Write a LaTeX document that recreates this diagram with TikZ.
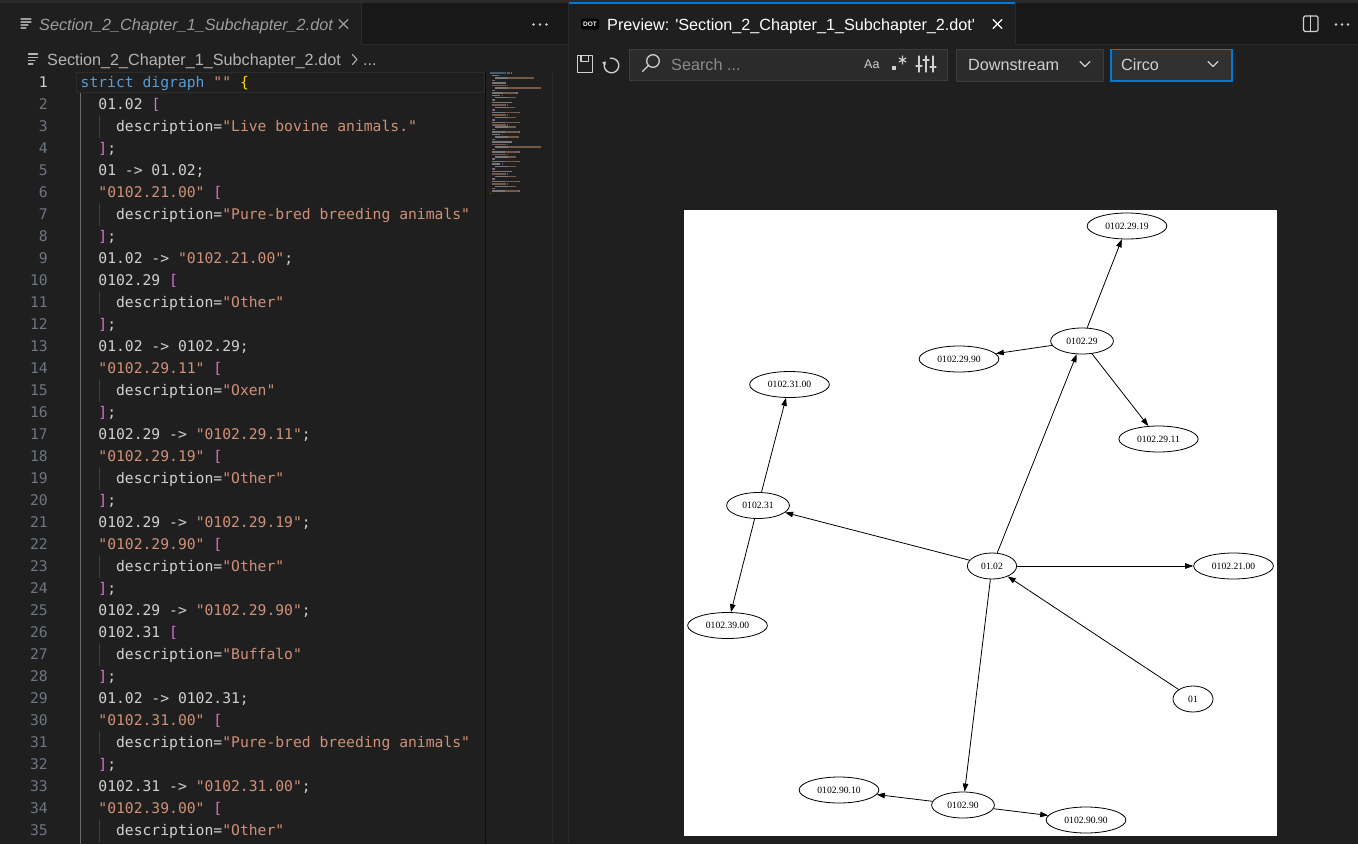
\documentclass[tikz,border=0pt]{standalone}
\usepackage{fontspec}
\usetikzlibrary{arrows.meta,shapes.geometric}
\newfontfamily\uifont{Liberation Sans}
\newfontfamily\codefont{DejaVu Sans Mono}
\newfontfamily\dotfont{Liberation Serif}
\definecolor{editorbg}{HTML}{1F1F1F}
\definecolor{tabbarbg}{HTML}{181818}
\definecolor{paneline}{HTML}{2B2B2B}
\definecolor{focusblue}{HTML}{0078D4}
\definecolor{codefg}{HTML}{D0D0D0}
\definecolor{dotkw}{HTML}{569CD6}
\definecolor{dotstr}{HTML}{CE9178}
\definecolor{dotbrk}{HTML}{DA70D6}
\definecolor{dotbrc}{HTML}{FFD700}
\definecolor{lnumfg}{HTML}{6E7681}
\definecolor{tabfg}{HTML}{9D9D9D}
\definecolor{crumbfg}{HTML}{B4B4B4}
\definecolor{hintfg}{HTML}{8B8B8B}
\definecolor{inputbg}{HTML}{2B2B2B}
\definecolor{inputline}{HTML}{3C3C3C}
\definecolor{dropbg}{HTML}{313131}
\definecolor{guidefg}{HTML}{404040}
\definecolor{guideact}{HTML}{6A6A6A}
\definecolor{currline}{HTML}{2C2C2C}
\newcommand\dkw[1]{\textcolor{dotkw}{#1}}
\newcommand\dstr[1]{\textcolor{dotstr}{#1}}
\newcommand\dbrk[1]{\textcolor{dotbrk}{#1}}
\newcommand\dbrc[1]{\textcolor{dotbrc}{#1}}
% editor line: number, indent, text
\newcommand\codeline[3]{\node[code] (c#1) at ({80.5+#2*8.85},{87+22*(#1-1)}) {#3};}
% minimap: line, column, length, colour
\newcommand\mmbar[4]{\fill[#4,opacity=.5] ({490+(#2)*1.15},{69.9+(#1)*2.46}) rectangle ++({(#3)*1.15},1.5);}
\newcommand\mmkey[1]{\mmbar{#1}{2}{12}{dotstr}\mmbar{#1}{15}{1}{dotbrk}}
\newcommand\mmnode[2]{\mmbar{#1}{2}{#2}{codefg}\mmbar{#1}{#2+3}{1}{dotbrk}}
\newcommand\mmdesc[2]{\mmbar{#1}{4}{12}{codefg}\mmbar{#1}{16}{#2}{dotstr}}
\newcommand\mmend[1]{\mmbar{#1}{2}{1}{dotbrk}\mmbar{#1}{3}{1}{codefg}}
\newcommand\mmedge[3]{\mmbar{#1}{2}{#2+4}{codefg}\mmbar{#1}{#2+6}{#3}{dotstr}\mmbar{#1}{#2+6+#3}{1}{codefg}}
\begin{document}
\begin{tikzpicture}[x=1pt, y=-1pt,
  code/.style={font=\codefont\fontsize{14.7}{17}\selectfont, text=codefg, anchor=base west, inner sep=0pt},
  lnum/.style={code, text=lnumfg, anchor=base east},
  ui/.style={font=\uifont\fontsize{16.2}{19}\selectfont, text=codefg, anchor=base west, inner sep=0pt},
  icon/.style={draw=codefg, line width=1.3pt, line cap=round, line join=round},
  dotnode/.style={ellipse, draw, fill=white, line width=.8pt, font=\dotfont\fontsize{9.6}{11}\selectfont,
    inner xsep=6.6pt, inner ysep=0pt, minimum height=26pt, minimum width=40pt},
  rel/.style={-{Triangle[length=8pt,width=5.5pt]}, line width=.8pt}]
\useasboundingbox (0,0) rectangle (1358,844);
\fill[editorbg] (0,0) rectangle (1358,844);
% tab bars
\fill[tabbarbg] (0,0) rectangle (1358,44.5);
\fill[paneline] (0,0) rectangle (1358,2.5);
\fill[editorbg] (0,2.5) rectangle (361,45);
\fill[editorbg] (568,2.5) rectangle (1015,45);
\fill[focusblue] (568,2) rectangle (1015,3.8);
\draw[paneline] (361,44.5) -- (568,44.5) (1015,44.5) -- (1358,44.5);
\draw[paneline] (361,2.5) -- (361,44.5) (1015,2.5) -- (1015,44.5);
\draw[paneline] (568,0) -- (568,844);
% left tab
\draw[icon, draw=tabfg, line width=1.2pt] (21,19) -- (31,19) (21,22) -- (31,22) (21,25) -- (28,25) (21,28) -- (26,28);
\node[ui, text=tabfg, font=\uifont\itshape\fontsize{16.2}{19}\selectfont] (tabL) at (39,30) {Section\_2\_Chapter\_1\_Subchapter\_2.dot};
\draw[icon, draw=tabfg, line width=1.1pt] (339,19.5) -- (348,28.5) (339,28.5) -- (348,19.5);
\foreach \x in {533.5,540,546.5} \fill[codefg] (\x,24.5) circle[radius=1.3];
% breadcrumb
\draw[icon, draw=crumbfg, line width=1.2pt] (28.5,54) -- (37.5,54) (28.5,57.3) -- (37.5,57.3) (28.5,60.6) -- (35,60.6) (28.5,63.9) -- (33,63.9);
\node[ui, text=crumbfg] (crumb) at (47,65) {Section\_2\_Chapter\_1\_Subchapter\_2.dot};
\draw[icon, draw=crumbfg, line width=1.1pt] (352.5,54.5) -- (357,59.5) -- (352.5,64.5);
\node[ui, text=crumbfg] (crumbmore) at (363,65) {...};
% editor
\draw[currline, line width=1pt] (76,72) rectangle (484.5,92.5);
\draw[guideact] (80.5,93) -- (80.5,844);
\foreach \n in {3,7,...,35} \draw[guidefg] (98.9,{71.5+22*(\n-1)}) -- ++(0,22);
\node[lnum, text=codefg] (ln1) at (48,87) {1};
\foreach \n in {2,...,35} \node[lnum] (ln\n) at (48,{87+22*(\n-1)}) {\n};
\codeline{1}{0}{\dkw{strict digraph} \dstr{""} \dbrc{\{}}
\codeline{2}{2}{01.02 \dbrk{[}}
\codeline{3}{4}{description=\dstr{"Live bovine animals."}}
\codeline{4}{2}{\dbrk{]};}
\codeline{5}{2}{01 -> 01.02;}
\codeline{6}{2}{\dstr{"0102.21.00"} \dbrk{[}}
\codeline{7}{4}{description=\dstr{"Pure-bred breeding animals"}}
\codeline{8}{2}{\dbrk{]};}
\codeline{9}{2}{01.02 -> \dstr{"0102.21.00"};}
\codeline{10}{2}{0102.29 \dbrk{[}}
\codeline{11}{4}{description=\dstr{"Other"}}
\codeline{12}{2}{\dbrk{]};}
\codeline{13}{2}{01.02 -> 0102.29;}
\codeline{14}{2}{\dstr{"0102.29.11"} \dbrk{[}}
\codeline{15}{4}{description=\dstr{"Oxen"}}
\codeline{16}{2}{\dbrk{]};}
\codeline{17}{2}{0102.29 -> \dstr{"0102.29.11"};}
\codeline{18}{2}{\dstr{"0102.29.19"} \dbrk{[}}
\codeline{19}{4}{description=\dstr{"Other"}}
\codeline{20}{2}{\dbrk{]};}
\codeline{21}{2}{0102.29 -> \dstr{"0102.29.19"};}
\codeline{22}{2}{\dstr{"0102.29.90"} \dbrk{[}}
\codeline{23}{4}{description=\dstr{"Other"}}
\codeline{24}{2}{\dbrk{]};}
\codeline{25}{2}{0102.29 -> \dstr{"0102.29.90"};}
\codeline{26}{2}{0102.31 \dbrk{[}}
\codeline{27}{4}{description=\dstr{"Buffalo"}}
\codeline{28}{2}{\dbrk{]};}
\codeline{29}{2}{01.02 -> 0102.31;}
\codeline{30}{2}{\dstr{"0102.31.00"} \dbrk{[}}
\codeline{31}{4}{description=\dstr{"Pure-bred breeding animals"}}
\codeline{32}{2}{\dbrk{]};}
\codeline{33}{2}{0102.31 -> \dstr{"0102.31.00"};}
\codeline{34}{2}{\dstr{"0102.39.00"} \dbrk{[}}
\codeline{35}{4}{description=\dstr{"Other"}}
% minimap
\draw[black!60!editorbg] (485,72) -- (485,844);
\draw[paneline] (552.5,72) -- (552.5,844);
\mmbar{1}{0}{14}{dotkw}\mmbar{1}{15}{2}{dotstr}\mmbar{1}{18}{1}{dotbrc}
\foreach \n in {6,14,18,22,30,34,42,46} {\mmkey{\n}}
\foreach \n in {4,8,...,48} {\mmend{\n}}
\foreach \n in {17,21,25,33,37,45,49} {\mmedge{\n}{7}{12}}
\mmedge{9}{5}{12}
\foreach \n/\w in {3/22,7/28,11/7,15/6,19/7,23/7,27/9,31/28,35/7,39/7,43/7,47/7} {\mmdesc{\n}{\w}}
\foreach \n/\w in {2/5,10/7,26/7,38/7} {\mmnode{\n}{\w}}
\foreach \n/\w in {5/12,13/17,29/17,41/17} {\mmbar{\n}{2}{\w}{codefg}}
\mmbar{50}{0}{1}{dotbrc}
% preview tab
\node[fill=black, rounded corners=2.5pt, text=white, font=\uifont\bfseries\fontsize{6.5}{7}\selectfont,
  inner sep=0pt, minimum width=18pt, minimum height=11pt] (dotbadge) at (590,24) {DOT};
\node[ui, text=white] (tabR) at (607,30) {Preview: 'Section\_2\_Chapter\_1\_Subchapter\_2.dot'};
\draw[icon, draw=white, line width=1.1pt] (993,19.5) -- (1002,28.5) (993,28.5) -- (1002,19.5);
\draw[icon, rounded corners=1.5pt] (1303.5,16) rectangle (1318,31.5);
\draw[icon] (1310.75,16) -- (1310.75,31.5);
\foreach \x in {1336,1342,1348} \fill[codefg] (\x,24.5) circle[radius=1.3];
% toolbar
\draw[icon] (577.5,55.5) rectangle (592.5,72.5);
\draw[icon] (581,55.5) rectangle (588.5,61.5);
\draw[icon, -{Triangle[length=3pt,width=4pt]}] (611.5,65.5) ++(-100:7.3) arc[start angle=-100, end angle=215, radius=7.3];
\draw[inputline, fill=inputbg] (629.5,49.5) rectangle (947.5,80.5);
\draw[icon] (653,61) circle[radius=6.3] (648.5,65.5) -- (642.5,71.5);
\node[ui, text=hintfg] (search) at (671,70.8) {Search ...};
\node[ui, font=\uifont\fontsize{12.5}{14}\selectfont] (caseopt) at (864,68.5) {Aa};
\fill[codefg] (892,66) rectangle (896,70);
\draw[icon, line width=1.1pt] (902.5,56) -- (902.5,64) (899,58) -- (906,62) (899,62) -- (906,58);
\draw[icon, line width=1.1pt] (919,56) -- (919,72) (926,56) -- (926,72) (933,56) -- (933,72)
  (916,66) -- (922,66) (923,60) -- (929,60) (930,67) -- (936,67);
\draw[inputline, fill=inputbg] (956.5,49.5) rectangle (1103.5,81);
\node[ui] (downstream) at (968,70.8) {Downstream};
\draw[icon, line width=1.1pt] (1080,61.5) -- (1085,66.5) -- (1090,61.5);
\draw[focusblue, fill=dropbg, line width=1.2pt] (1111,49.5) rectangle (1232,81);
\node[ui] (circo) at (1121,70.8) {Circo};
\draw[icon, line width=1.1pt] (1208,61.5) -- (1213,66.5) -- (1218,61.5);
% graph
\fill[white] (684,210) rectangle (1277,836);
\node[dotnode] (n2919) at (1127,226) {0102.29.19};
\node[dotnode] (n29) at (1082,341) {0102.29};
\node[dotnode] (n2990) at (959,359) {0102.29.90};
\node[dotnode] (n3100) at (789.5,384.5) {0102.31.00};
\node[dotnode] (n2911) at (1158.5,439) {0102.29.11};
\node[dotnode] (n31) at (758,505.5) {0102.31};
\node[dotnode] (n0102) at (992,566) {01.02};
\node[dotnode] (n2100) at (1233.5,566) {0102.21.00};
\node[dotnode] (n3900) at (727.5,625.5) {0102.39.00};
\node[dotnode] (n01) at (1193,699) {01};
\node[dotnode] (n9010) at (839,790) {0102.90.10};
\node[dotnode] (n90) at (963,805) {0102.90};
\node[dotnode] (n9090) at (1086,820) {0102.90.90};
\draw[rel] (n01) -- (n0102);
\draw[rel] (n0102) -- (n2100);
\draw[rel] (n0102) -- (n29);
\draw[rel] (n29) -- (n2911);
\draw[rel] (n29) -- (n2919);
\draw[rel] (n29) -- (n2990);
\draw[rel] (n0102) -- (n31);
\draw[rel] (n31) -- (n3100);
\draw[rel] (n31) -- (n3900);
\draw[rel] (n0102) -- (n90);
\draw[rel] (n90) -- (n9010);
\draw[rel] (n90) -- (n9090);
\end{tikzpicture}
\end{document}
